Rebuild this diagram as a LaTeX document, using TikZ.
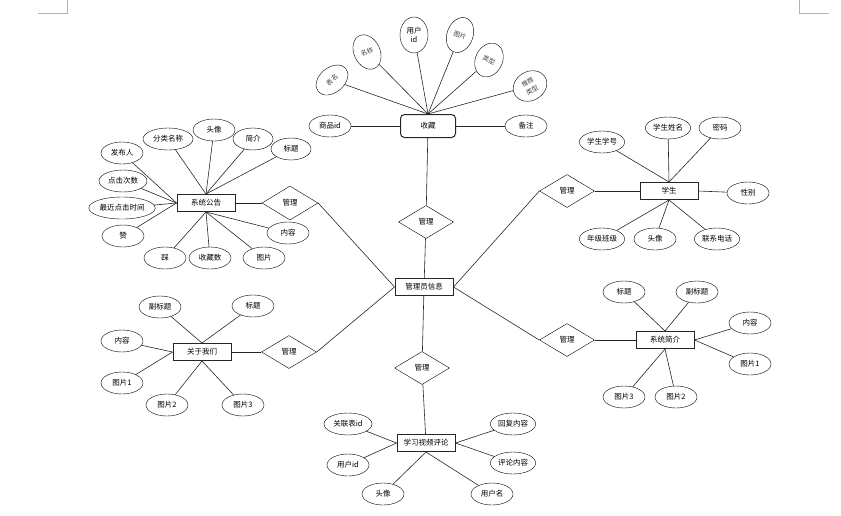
\documentclass[tikz,border=0pt]{standalone}
\usepackage{fontspec}
\newfontfamily\cjk{Noto Sans CJK SC}
\usepackage{tikz}
\usetikzlibrary{shapes, positioning}

\begin{document}
\begin{tikzpicture}[x=1pt, y=-1pt,
	every node/.style={font=\cjk\fontsize{7.5}{8.5}\selectfont},
	attr/.style={draw, ellipse, inner sep=1pt, minimum width=42pt, minimum height=22pt},
	tilt/.style={attr, font=\cjk\fontsize{6.5}{9}\selectfont, text=black!75},
	ent/.style={draw=black!85, line width=1pt, rectangle, minimum width=58pt, minimum height=17pt},
	rel/.style={draw, diamond, inner sep=0pt, minimum width=55pt, minimum height=33pt},
	link/.style={draw=black!85, line width=0.6pt}]
				\useasboundingbox (0,0) rectangle (841,515);

				% page corner marks
				\draw[black!30, line width=0.6pt] (38,13) -- (67,13) -- (67,0);
				\draw[black!30, line width=0.6pt] (799,0) -- (799,13) -- (829,13);

				% centre
				\node (Admin) [ent] at (424,287) {管理员信息};

				% collection
				\node (Fav) [ent, rounded corners=4pt, minimum width=55pt, minimum height=23pt] at (428,126) {收藏};
				\node (FavGoods) [attr] at (330,126) {商品id};
				\node (FavNote) [attr] at (526,126) {备注};
				\node (FavTable) [tilt, rotate=40, minimum width=36pt, minimum height=25pt] at (332,80) {表名};
				\node (FavName) [tilt, rotate=25, minimum width=26pt, minimum height=36pt] at (367,52) {名称};
				\node (FavUser) [attr, align=center, minimum width=28pt, minimum height=36pt] at (414,35) {用户\\id};
				\node (FavPic) [tilt, rotate=-20, minimum width=26pt, minimum height=36pt] at (460,35) {图片};
				\node (FavType) [tilt, rotate=-25, minimum width=27pt, minimum height=35pt] at (489,60) {类型};
				\node (FavRec) [tilt, rotate=30, align=center, minimum width=35pt, minimum height=29pt] at (530,86) {推荐\\类型};
				\draw[link] (FavGoods) -- (Fav.west);
				\draw[link] (FavNote) -- (Fav.east);
				\foreach \a in {FavTable, FavName, FavUser, FavPic, FavType, FavRec}
					\draw[link] (\a) -- (Fav.north);
				\node (RelFav) [rel] at (426,222) {管理};
				\draw[link] (Fav) -- (RelFav);
				\draw[link] (RelFav) -- (Admin);

				% notice
				\node (News) [ent] at (206,203) {系统公告};
				\node (NewsType) [attr, minimum width=50pt] at (168,139) {分类名称};
				\node (NewsHead) [attr] at (214,130) {头像};
				\node (NewsBrief) [attr, minimum width=40pt] at (253,139) {简介};
				\node (NewsTitle) [attr, minimum width=40pt] at (291,149) {标题};
				\node (NewsAuthor) [attr] at (122,153) {发布人};
				\node (NewsClicks) [attr, minimum width=48pt] at (123,181) {点击次数};
				\node (NewsLast) [attr, minimum width=62pt] at (122,208) {最近点击时间};
				\node (NewsUp) [attr] at (123,236) {赞};
				\node (NewsDown) [attr] at (165,258) {踩};
				\node (NewsStars) [attr] at (210,258) {收藏数};
				\node (NewsPic) [attr] at (264,258) {图片};
				\node (NewsText) [attr] at (288,233) {内容};
				\foreach \a in {NewsType, NewsHead, NewsBrief, NewsTitle}
					\draw[link] (\a) -- (News.north);
				\foreach \a in {NewsAuthor, NewsClicks, NewsLast, NewsUp}
					\draw[link] (\a) -- (News.west);
				\foreach \a in {NewsDown, NewsStars, NewsPic, NewsText}
					\draw[link] (\a) -- (News.south);
				\node (RelNews) [rel, minimum width=56pt, minimum height=34pt] at (290,203) {管理};
				\draw[link] (News) -- (RelNews);
				\draw[link] (RelNews.east) -- (Admin.west);

				% about us
				\node (About) [ent] at (202,352) {关于我们};
				\node (AboutSub) [attr] at (160,307) {副标题};
				\node (AboutTitle) [attr] at (253,306) {标题};
				\node (AboutText) [attr] at (122,341) {内容};
				\node (AboutPicA) [attr] at (122,383) {图片1};
				\node (AboutPicB) [attr] at (167,405) {图片2};
				\node (AboutPicC) [attr] at (243,405) {图片3};
				\foreach \a in {AboutSub, AboutTitle}
					\draw[link] (\a) -- (About.north);
				\foreach \a in {AboutText, AboutPicA}
					\draw[link] (\a) -- (About.west);
				\foreach \a in {AboutPicB, AboutPicC}
					\draw[link] (\a) -- (About.south);
				\node (RelAbout) [rel] at (289,352) {管理};
				\draw[link] (About) -- (RelAbout);
				\draw[link] (RelAbout.east) -- (Admin.west);

				% student
				\node (Stu) [ent] at (669,191) {学生};
				\node (StuNo) [attr] at (602,142) {学生学号};
				\node (StuName) [attr] at (668,128) {学生姓名};
				\node (StuPwd) [attr] at (720,128) {密码};
				\node (StuSex) [attr] at (748,193) {性别};
				\node (StuClass) [attr] at (602,239) {年级班级};
				\node (StuHead) [attr] at (655,239) {头像};
				\node (StuTel) [attr] at (717,239) {联系电话};
				\foreach \a in {StuNo, StuName, StuPwd}
					\draw[link] (\a) -- (Stu.north);
				\draw[link] (StuSex) -- (Stu.east);
				\foreach \a in {StuClass, StuHead, StuTel}
					\draw[link] (\a) -- (Stu.south);
				\node (RelStu) [rel] at (567,191) {管理};
				\draw[link] (Stu) -- (RelStu);
				\draw[link] (RelStu.west) -- (Admin.east);

				% system intro
				\node (Intro) [ent] at (665,340) {系统简介};
				\node (IntroTitle) [attr] at (624,292) {标题};
				\node (IntroSub) [attr] at (697,292) {副标题};
				\node (IntroText) [attr] at (750,323) {内容};
				\node (IntroPicA) [attr] at (750,364) {图片1};
				\node (IntroPicC) [attr] at (624,397) {图片3};
				\node (IntroPicB) [attr] at (676,397) {图片2};
				\foreach \a in {IntroTitle, IntroSub}
					\draw[link] (\a) -- (Intro.north);
				\foreach \a in {IntroText, IntroPicA}
					\draw[link] (\a) -- (Intro.east);
				\foreach \a in {IntroPicC, IntroPicB}
					\draw[link] (\a) -- (Intro.south);
				\node (RelIntro) [rel] at (567,340) {管理};
				\draw[link] (Intro) -- (RelIntro);
				\draw[link] (RelIntro.west) -- (Admin.east);

				% video comments
				\node (Cmt) [ent] at (426,443) {学习视频评论};
				\node (CmtRef) [attr, minimum width=48pt] at (348,424) {关联表id};
				\node (CmtUser) [attr] at (348,465) {用户id};
				\node (CmtHead) [attr] at (383,494) {头像};
				\node (CmtName) [attr] at (492,494) {用户名};
				\node (CmtReply) [attr] at (513,424) {回复内容};
				\node (CmtText) [attr] at (513,463) {评论内容};
				\foreach \a in {CmtRef, CmtUser}
					\draw[link] (\a) -- (Cmt.west);
				\foreach \a in {CmtHead, CmtName}
					\draw[link] (\a) -- (Cmt.south);
				\foreach \a in {CmtReply, CmtText}
					\draw[link] (\a) -- (Cmt.east);
				\node (RelCmt) [rel] at (422,368) {管理};
				\draw[link] (Admin) -- (RelCmt);
				\draw[link] (RelCmt) -- (Cmt);
			\end{tikzpicture}
\end{document}
